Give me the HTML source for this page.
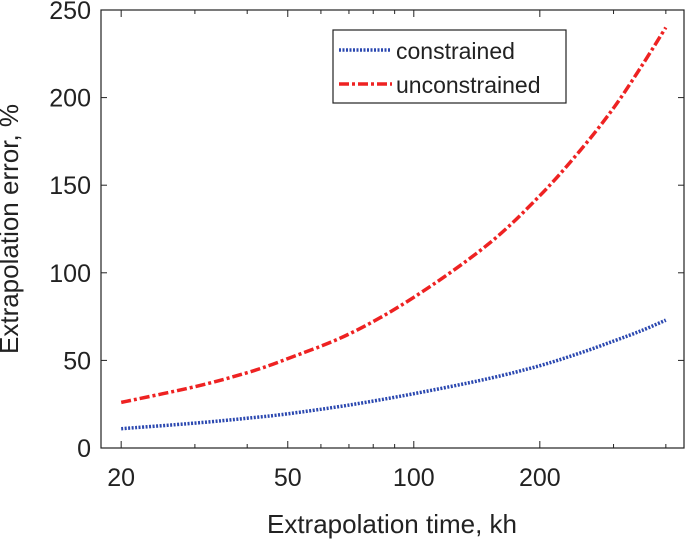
<!DOCTYPE html>
<html><head><meta charset="utf-8"><style>
html,body{margin:0;padding:0;background:#fff;}
svg{display:block;font-family:"Liberation Sans",Arial,sans-serif;}
</style></head><body>
<svg id="chart" width="685" height="540" viewBox="0 0 685 540">
<g id="plot"></g>
</svg>
<script>
const xCats=[20,30,40,50,70,100,150,200,250,300,350,400];
const constrained=[11,14.2,17,19.5,24.5,31,39.5,47,54.3,61,67,73];
const unconstrained=[26,35,43,51,65,86,116,144,170,194,218,240];
const yTicks=[0,50,100,150,200,250];
const xTickLabels=[20,50,100,200];
const xMinor=[30,40,60,70,80,90,300,400];
const L=101,R=684,T=10,B=448;
const xMin=17.9,xMax=442;
function X(v){return L+(Math.log10(v)-Math.log10(xMin))/(Math.log10(xMax)-Math.log10(xMin))*(R-L);}
function Y(v){return B-(v/250)*(B-T);}
const NS="http://www.w3.org/2000/svg";
const g=document.getElementById('plot');
function mk(t,a,p){const e=document.createElementNS(NS,t);for(const k in a)e.setAttribute(k,a[k]);(p||g).appendChild(e);return e;}
const box=mk('rect',{x:L,y:T,width:R-L,height:B-T,fill:'none',stroke:'#222','stroke-width':1.2});


yTicks.forEach(v=>{
 const y=Y(v);
 const t1=mk('line',{x1:L,x2:L+6,y1:y,y2:y,stroke:'#222'});
 
 
 mk('line',{x1:R-6,x2:R,y1:y,y2:y,stroke:'#222'});
 const tx=mk('text',{x:L-10,y:y+9,'text-anchor':'end','font-size':25,fill:'#222'});
 tx.textContent=v;
 
 
});
xTickLabels.concat(xMinor).forEach(v=>{
 const x=X(v);
 const len=xTickLabels.includes(v)?7:4;
 const t1=mk('line',{x1:x,x2:x,y1:B,y2:B-len,stroke:'#222'});
 
 
 mk('line',{x1:x,x2:x,y1:T,y2:T+len,stroke:'#222'});
});
xTickLabels.forEach(v=>{
 const tx=mk('text',{x:X(v),y:486,'text-anchor':'middle','font-size':25,fill:'#222'});
 tx.textContent=v;
 
 
});
function line(vals,color,dash,name){
 const pts=vals.map((v,i)=>[X(xCats[i]),Y(v)]);
 let d='M'+pts[0][0].toFixed(1)+','+pts[0][1].toFixed(1);
 for(let i=0;i<pts.length-1;i++){
  const p0=pts[Math.max(i-1,0)],p1=pts[i],p2=pts[i+1],p3=pts[Math.min(i+2,pts.length-1)];
  const c1=[p1[0]+(p2[0]-p0[0])/6,p1[1]+(p2[1]-p0[1])/6];
  const c2=[p2[0]-(p3[0]-p1[0])/6,p2[1]-(p3[1]-p1[1])/6];
  d+=' C'+c1[0].toFixed(1)+','+c1[1].toFixed(1)+' '+c2[0].toFixed(1)+','+c2[1].toFixed(1)+' '+p2[0].toFixed(1)+','+p2[1].toFixed(1);
 }
 const p=mk('path',{d:d,fill:'none',stroke:color,'stroke-width':3.5,'stroke-dasharray':dash});
 
 
}
line(constrained,'#2b48b0','2 1.5','constrained-line');
line(unconstrained,'#ee2222','10 3 3 3','unconstrained-line');
const lg=mk('g',{});


mk('rect',{x:333,y:30,width:233,height:73,fill:'#fff',stroke:'#222','stroke-width':1.2},lg);
mk('line',{x1:339,x2:390,y1:50,y2:50,stroke:'#2b48b0','stroke-width':3.5,'stroke-dasharray':'2 1.5'},lg);
mk('line',{x1:339,x2:392,y1:84,y2:84,stroke:'#ee2222','stroke-width':3.5,'stroke-dasharray':'10 3 3 3'},lg);
const l1=mk('text',{x:396,y:59,'font-size':23,fill:'#222'},lg);l1.textContent='constrained';


const l2=mk('text',{x:396,y:93,'font-size':23,fill:'#222'},lg);l2.textContent='unconstrained';


const xt=mk('text',{x:392,y:533,'text-anchor':'middle','font-size':26,fill:'#222'});
xt.textContent='Extrapolation time, kh';


const yt=mk('text',{x:0,y:0,'text-anchor':'middle','font-size':26,fill:'#222',transform:'translate(18,229) rotate(-90)'});
yt.textContent='Extrapolation error, %';


</script>
</body></html>
